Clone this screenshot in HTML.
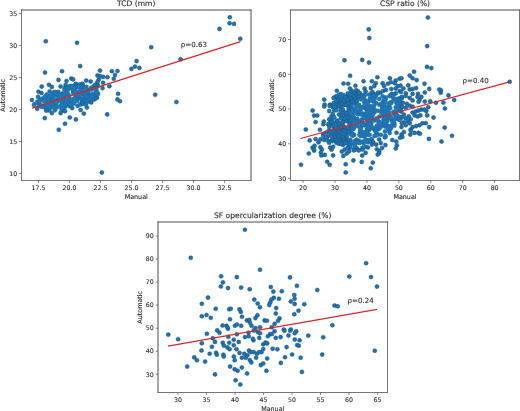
<!DOCTYPE html>
<html><head><meta charset="utf-8"><title>Scatter plots</title>
<style>html,body{margin:0;padding:0;background:#fff;overflow:hidden}svg{display:block;filter:blur(0.3px)}svg text{fill:#2e2e2e;stroke:#2e2e2e;stroke-width:0.12px}</style>
</head><body>
<svg width="520" height="411" viewBox="0 0 520 411" font-family="'DejaVu Sans', 'Liberation Sans', sans-serif" fill="#1f72ad" stroke="#184f7c" stroke-width="0.45">
<g fill="#1f77b4" stroke="#1d6aa2" stroke-width="0.3">
<circle cx="49.8" cy="98.4" r="2.15"/>
<circle cx="58.6" cy="100.1" r="2.15"/>
<circle cx="75.8" cy="84.7" r="2.15"/>
<circle cx="90.0" cy="96.5" r="2.15"/>
<circle cx="76.7" cy="87.1" r="2.15"/>
<circle cx="68.9" cy="104.1" r="2.15"/>
<circle cx="78.9" cy="84.6" r="2.15"/>
<circle cx="84.7" cy="99.8" r="2.15"/>
<circle cx="92.0" cy="96.4" r="2.15"/>
<circle cx="60.3" cy="105.8" r="2.15"/>
<circle cx="63.7" cy="109.7" r="2.15"/>
<circle cx="75.9" cy="91.4" r="2.15"/>
<circle cx="67.9" cy="93.9" r="2.15"/>
<circle cx="57.3" cy="99.6" r="2.15"/>
<circle cx="78.9" cy="87.5" r="2.15"/>
<circle cx="94.6" cy="99.1" r="2.15"/>
<circle cx="81.8" cy="88.9" r="2.15"/>
<circle cx="89.7" cy="99.3" r="2.15"/>
<circle cx="39.7" cy="105.8" r="2.15"/>
<circle cx="53.5" cy="104.9" r="2.15"/>
<circle cx="82.1" cy="92.3" r="2.15"/>
<circle cx="47.0" cy="94.5" r="2.15"/>
<circle cx="74.8" cy="87.3" r="2.15"/>
<circle cx="54.9" cy="110.3" r="2.15"/>
<circle cx="94.1" cy="93.6" r="2.15"/>
<circle cx="64.7" cy="97.7" r="2.15"/>
<circle cx="77.1" cy="99.9" r="2.15"/>
<circle cx="71.4" cy="100.6" r="2.15"/>
<circle cx="97.0" cy="97.4" r="2.15"/>
<circle cx="62.7" cy="103.5" r="2.15"/>
<circle cx="49.7" cy="91.4" r="2.15"/>
<circle cx="61.7" cy="99.4" r="2.15"/>
<circle cx="76.3" cy="84.5" r="2.15"/>
<circle cx="75.9" cy="96.2" r="2.15"/>
<circle cx="79.4" cy="92.9" r="2.15"/>
<circle cx="81.3" cy="104.0" r="2.15"/>
<circle cx="50.6" cy="95.9" r="2.15"/>
<circle cx="73.6" cy="92.0" r="2.15"/>
<circle cx="58.2" cy="91.8" r="2.15"/>
<circle cx="58.6" cy="99.9" r="2.15"/>
<circle cx="54.0" cy="93.6" r="2.15"/>
<circle cx="72.0" cy="103.9" r="2.15"/>
<circle cx="87.8" cy="89.7" r="2.15"/>
<circle cx="46.4" cy="95.3" r="2.15"/>
<circle cx="80.7" cy="85.7" r="2.15"/>
<circle cx="55.4" cy="92.4" r="2.15"/>
<circle cx="89.8" cy="95.4" r="2.15"/>
<circle cx="91.3" cy="87.7" r="2.15"/>
<circle cx="56.4" cy="101.5" r="2.15"/>
<circle cx="93.3" cy="95.7" r="2.15"/>
<circle cx="69.4" cy="88.3" r="2.15"/>
<circle cx="88.0" cy="101.2" r="2.15"/>
<circle cx="88.0" cy="92.7" r="2.15"/>
<circle cx="87.1" cy="90.6" r="2.15"/>
<circle cx="57.0" cy="94.8" r="2.15"/>
<circle cx="62.0" cy="94.6" r="2.15"/>
<circle cx="95.7" cy="87.3" r="2.15"/>
<circle cx="63.0" cy="110.1" r="2.15"/>
<circle cx="96.1" cy="89.2" r="2.15"/>
<circle cx="78.3" cy="97.7" r="2.15"/>
<circle cx="53.2" cy="92.6" r="2.15"/>
<circle cx="73.3" cy="91.0" r="2.15"/>
<circle cx="94.3" cy="99.4" r="2.15"/>
<circle cx="34.6" cy="104.2" r="2.15"/>
<circle cx="78.3" cy="97.9" r="2.15"/>
<circle cx="61.6" cy="109.8" r="2.15"/>
<circle cx="74.9" cy="92.6" r="2.15"/>
<circle cx="50.7" cy="107.5" r="2.15"/>
<circle cx="65.8" cy="105.3" r="2.15"/>
<circle cx="69.7" cy="106.2" r="2.15"/>
<circle cx="45.3" cy="105.5" r="2.15"/>
<circle cx="51.8" cy="97.9" r="2.15"/>
<circle cx="62.2" cy="96.4" r="2.15"/>
<circle cx="55.0" cy="91.8" r="2.15"/>
<circle cx="57.4" cy="101.4" r="2.15"/>
<circle cx="73.2" cy="93.2" r="2.15"/>
<circle cx="42.1" cy="98.7" r="2.15"/>
<circle cx="81.9" cy="93.7" r="2.15"/>
<circle cx="58.9" cy="100.1" r="2.15"/>
<circle cx="86.4" cy="93.7" r="2.15"/>
<circle cx="87.6" cy="100.7" r="2.15"/>
<circle cx="62.8" cy="93.5" r="2.15"/>
<circle cx="67.1" cy="103.0" r="2.15"/>
<circle cx="62.0" cy="102.7" r="2.15"/>
<circle cx="64.7" cy="89.8" r="2.15"/>
<circle cx="69.8" cy="102.8" r="2.15"/>
<circle cx="62.4" cy="108.0" r="2.15"/>
<circle cx="96.7" cy="93.5" r="2.15"/>
<circle cx="51.4" cy="96.1" r="2.15"/>
<circle cx="42.0" cy="106.1" r="2.15"/>
<circle cx="87.0" cy="102.0" r="2.15"/>
<circle cx="83.1" cy="99.0" r="2.15"/>
<circle cx="40.7" cy="99.7" r="2.15"/>
<circle cx="93.0" cy="87.9" r="2.15"/>
<circle cx="41.9" cy="107.0" r="2.15"/>
<circle cx="85.4" cy="97.5" r="2.15"/>
<circle cx="81.8" cy="85.9" r="2.15"/>
<circle cx="50.6" cy="100.5" r="2.15"/>
<circle cx="84.4" cy="94.1" r="2.15"/>
<circle cx="58.5" cy="94.2" r="2.15"/>
<circle cx="57.3" cy="94.8" r="2.15"/>
<circle cx="84.0" cy="87.4" r="2.15"/>
<circle cx="80.2" cy="104.5" r="2.15"/>
<circle cx="79.1" cy="97.6" r="2.15"/>
<circle cx="66.3" cy="101.3" r="2.15"/>
<circle cx="94.1" cy="87.1" r="2.15"/>
<circle cx="40.2" cy="104.3" r="2.15"/>
<circle cx="95.4" cy="97.6" r="2.15"/>
<circle cx="63.5" cy="103.4" r="2.15"/>
<circle cx="47.1" cy="99.6" r="2.15"/>
<circle cx="53.6" cy="103.0" r="2.15"/>
<circle cx="61.5" cy="107.3" r="2.15"/>
<circle cx="73.1" cy="90.5" r="2.15"/>
<circle cx="66.0" cy="93.8" r="2.15"/>
<circle cx="55.4" cy="105.0" r="2.15"/>
<circle cx="66.0" cy="100.0" r="2.15"/>
<circle cx="65.2" cy="106.8" r="2.15"/>
<circle cx="89.0" cy="98.8" r="2.15"/>
<circle cx="66.1" cy="103.5" r="2.15"/>
<circle cx="91.4" cy="94.3" r="2.15"/>
<circle cx="65.2" cy="89.4" r="2.15"/>
<circle cx="49.5" cy="103.4" r="2.15"/>
<circle cx="91.2" cy="89.7" r="2.15"/>
<circle cx="46.3" cy="103.0" r="2.15"/>
<circle cx="50.9" cy="107.6" r="2.15"/>
<circle cx="54.8" cy="94.9" r="2.15"/>
<circle cx="82.8" cy="85.3" r="2.15"/>
<circle cx="53.4" cy="93.0" r="2.15"/>
<circle cx="72.8" cy="102.2" r="2.15"/>
<circle cx="63.1" cy="96.7" r="2.15"/>
<circle cx="47.9" cy="99.6" r="2.15"/>
<circle cx="98.0" cy="94.0" r="2.15"/>
<circle cx="70.4" cy="86.2" r="2.15"/>
<circle cx="52.2" cy="101.9" r="2.15"/>
<circle cx="94.9" cy="85.6" r="2.15"/>
<circle cx="97.1" cy="93.5" r="2.15"/>
<circle cx="85.7" cy="104.5" r="2.15"/>
<circle cx="53.6" cy="102.2" r="2.15"/>
<circle cx="77.7" cy="105.9" r="2.15"/>
<circle cx="51.6" cy="104.4" r="2.15"/>
<circle cx="69.8" cy="86.1" r="2.15"/>
<circle cx="67.0" cy="92.9" r="2.15"/>
<circle cx="82.0" cy="102.3" r="2.15"/>
<circle cx="71.8" cy="88.0" r="2.15"/>
<circle cx="77.2" cy="100.9" r="2.15"/>
<circle cx="45.8" cy="108.3" r="2.15"/>
<circle cx="77.8" cy="86.3" r="2.15"/>
<circle cx="96.4" cy="86.9" r="2.15"/>
<circle cx="56.0" cy="103.5" r="2.15"/>
<circle cx="73.9" cy="98.7" r="2.15"/>
<circle cx="77.3" cy="95.9" r="2.15"/>
<circle cx="38.4" cy="103.3" r="2.15"/>
<circle cx="84.5" cy="98.4" r="2.15"/>
<circle cx="83.5" cy="93.1" r="2.15"/>
<circle cx="51.6" cy="93.8" r="2.15"/>
<circle cx="67.7" cy="89.9" r="2.15"/>
<circle cx="85.5" cy="93.0" r="2.15"/>
<circle cx="56.1" cy="94.4" r="2.15"/>
<circle cx="70.2" cy="104.9" r="2.15"/>
<circle cx="57.5" cy="107.1" r="2.15"/>
<circle cx="86.1" cy="103.7" r="2.15"/>
<circle cx="61.8" cy="104.1" r="2.15"/>
<circle cx="73.6" cy="87.0" r="2.15"/>
<circle cx="69.2" cy="99.1" r="2.15"/>
<circle cx="97.6" cy="93.8" r="2.15"/>
<circle cx="70.9" cy="99.5" r="2.15"/>
<circle cx="79.9" cy="91.4" r="2.15"/>
<circle cx="91.6" cy="96.7" r="2.15"/>
<circle cx="74.2" cy="103.7" r="2.15"/>
<circle cx="33.9" cy="104.9" r="2.15"/>
<circle cx="78.3" cy="96.9" r="2.15"/>
<circle cx="69.0" cy="96.0" r="2.15"/>
<circle cx="46.8" cy="98.0" r="2.15"/>
<circle cx="77.2" cy="95.5" r="2.15"/>
<circle cx="93.7" cy="86.7" r="2.15"/>
<circle cx="87.0" cy="100.7" r="2.15"/>
<circle cx="55.5" cy="107.8" r="2.15"/>
<circle cx="80.5" cy="86.7" r="2.15"/>
<circle cx="91.5" cy="100.1" r="2.15"/>
<circle cx="83.5" cy="92.7" r="2.15"/>
<circle cx="91.7" cy="95.3" r="2.15"/>
<circle cx="84.6" cy="96.7" r="2.15"/>
<circle cx="44.6" cy="97.1" r="2.15"/>
<circle cx="80.8" cy="98.2" r="2.15"/>
<circle cx="62.1" cy="101.4" r="2.15"/>
<circle cx="54.2" cy="96.1" r="2.15"/>
<circle cx="84.7" cy="94.3" r="2.15"/>
<circle cx="45.9" cy="108.6" r="2.15"/>
<circle cx="82.1" cy="93.3" r="2.15"/>
<circle cx="58.7" cy="98.0" r="2.15"/>
<circle cx="73.9" cy="89.2" r="2.15"/>
<circle cx="86.4" cy="86.9" r="2.15"/>
<circle cx="64.7" cy="88.4" r="2.15"/>
<circle cx="45.1" cy="96.9" r="2.15"/>
<circle cx="63.9" cy="94.5" r="2.15"/>
<circle cx="81.1" cy="84.3" r="2.15"/>
<circle cx="60.9" cy="94.2" r="2.15"/>
<circle cx="65.7" cy="87.5" r="2.15"/>
<circle cx="75.6" cy="92.7" r="2.15"/>
<circle cx="82.7" cy="90.7" r="2.15"/>
<circle cx="86.7" cy="96.2" r="2.15"/>
<circle cx="96.5" cy="91.4" r="2.15"/>
<circle cx="88.5" cy="100.9" r="2.15"/>
<circle cx="37.4" cy="101.6" r="2.15"/>
<circle cx="94.3" cy="88.6" r="2.15"/>
<circle cx="97.0" cy="83.8" r="2.15"/>
<circle cx="54.2" cy="100.2" r="2.15"/>
<circle cx="97.4" cy="85.3" r="2.15"/>
<circle cx="53.5" cy="107.2" r="2.15"/>
<circle cx="56.2" cy="102.3" r="2.15"/>
<circle cx="96.2" cy="87.8" r="2.15"/>
<circle cx="83.5" cy="103.9" r="2.15"/>
<circle cx="89.9" cy="98.7" r="2.15"/>
<circle cx="95.9" cy="93.2" r="2.15"/>
<circle cx="86.2" cy="96.6" r="2.15"/>
<circle cx="82.2" cy="100.2" r="2.15"/>
<circle cx="81.5" cy="93.9" r="2.15"/>
<circle cx="66.5" cy="87.2" r="2.15"/>
<circle cx="65.2" cy="104.6" r="2.15"/>
<circle cx="79.3" cy="85.6" r="2.15"/>
<circle cx="49.7" cy="107.0" r="2.15"/>
<circle cx="92.4" cy="95.7" r="2.15"/>
<circle cx="56.2" cy="93.4" r="2.15"/>
<circle cx="98.0" cy="85.8" r="2.15"/>
<circle cx="72.0" cy="86.0" r="2.15"/>
<circle cx="39.2" cy="101.4" r="2.15"/>
<circle cx="44.0" cy="101.3" r="2.15"/>
<circle cx="49.2" cy="110.6" r="2.15"/>
<circle cx="48.6" cy="98.9" r="2.15"/>
<circle cx="62.0" cy="105.2" r="2.15"/>
<circle cx="69.7" cy="88.2" r="2.15"/>
<circle cx="47.2" cy="108.4" r="2.15"/>
<circle cx="48.7" cy="106.6" r="2.15"/>
</g>
<circle cx="229.8" cy="17.3" r="2.05"/>
<circle cx="229.6" cy="23.2" r="2.05"/>
<circle cx="234.0" cy="23.9" r="2.05"/>
<circle cx="219.5" cy="28.9" r="2.05"/>
<circle cx="240.3" cy="38.7" r="2.05"/>
<circle cx="180.6" cy="59.3" r="2.05"/>
<circle cx="45.8" cy="41.2" r="2.05"/>
<circle cx="77.0" cy="42.8" r="2.05"/>
<circle cx="151.2" cy="47.2" r="2.05"/>
<circle cx="136.6" cy="61.1" r="2.05"/>
<circle cx="135.0" cy="66.6" r="2.05"/>
<circle cx="131.4" cy="68.9" r="2.05"/>
<circle cx="139.4" cy="67.9" r="2.05"/>
<circle cx="155.2" cy="94.8" r="2.05"/>
<circle cx="176.4" cy="102.0" r="2.05"/>
<circle cx="101.9" cy="172.5" r="2.05"/>
<circle cx="80.2" cy="66.1" r="2.05"/>
<circle cx="62.0" cy="71.2" r="2.05"/>
<circle cx="45.0" cy="72.6" r="2.05"/>
<circle cx="100.0" cy="70.6" r="2.05"/>
<circle cx="111.9" cy="71.2" r="2.05"/>
<circle cx="117.5" cy="71.0" r="2.05"/>
<circle cx="115.0" cy="75.0" r="2.05"/>
<circle cx="113.8" cy="78.8" r="2.05"/>
<circle cx="97.5" cy="75.5" r="2.05"/>
<circle cx="103.1" cy="76.9" r="2.05"/>
<circle cx="107.5" cy="77.2" r="2.05"/>
<circle cx="98.8" cy="79.4" r="2.05"/>
<circle cx="86.2" cy="80.6" r="2.05"/>
<circle cx="90.6" cy="81.5" r="2.05"/>
<circle cx="97.5" cy="81.9" r="2.05"/>
<circle cx="103.1" cy="82.8" r="2.05"/>
<circle cx="95.0" cy="85.0" r="2.05"/>
<circle cx="109.4" cy="86.2" r="2.05"/>
<circle cx="102.5" cy="88.1" r="2.05"/>
<circle cx="118.1" cy="93.8" r="2.05"/>
<circle cx="117.5" cy="99.4" r="2.05"/>
<circle cx="120.0" cy="101.2" r="2.05"/>
<circle cx="58.5" cy="79.9" r="2.05"/>
<circle cx="66.5" cy="81.0" r="2.05"/>
<circle cx="71.3" cy="78.5" r="2.05"/>
<circle cx="73.1" cy="79.4" r="2.05"/>
<circle cx="75.6" cy="83.8" r="2.05"/>
<circle cx="82.5" cy="83.8" r="2.05"/>
<circle cx="65.6" cy="85.0" r="2.05"/>
<circle cx="60.6" cy="86.5" r="2.05"/>
<circle cx="49.0" cy="84.8" r="2.05"/>
<circle cx="51.9" cy="86.9" r="2.05"/>
<circle cx="41.7" cy="86.6" r="2.05"/>
<circle cx="38.5" cy="91.7" r="2.05"/>
<circle cx="41.5" cy="93.0" r="2.05"/>
<circle cx="38.1" cy="96.9" r="2.05"/>
<circle cx="31.9" cy="100.0" r="2.05"/>
<circle cx="37.2" cy="108.8" r="2.05"/>
<circle cx="44.8" cy="118.1" r="2.05"/>
<circle cx="58.8" cy="129.8" r="2.05"/>
<circle cx="65.0" cy="123.8" r="2.05"/>
<circle cx="69.8" cy="117.5" r="2.05"/>
<circle cx="75.9" cy="119.4" r="2.05"/>
<circle cx="72.2" cy="108.1" r="2.05"/>
<circle cx="60.6" cy="113.1" r="2.05"/>
<circle cx="51.9" cy="113.1" r="2.05"/>
<circle cx="46.2" cy="110.6" r="2.05"/>
<circle cx="65.0" cy="111.2" r="2.05"/>
<circle cx="80.6" cy="110.0" r="2.05"/>
<circle cx="83.8" cy="113.6" r="2.05"/>
<circle cx="86.9" cy="107.5" r="2.05"/>
<circle cx="107.2" cy="114.4" r="2.05"/>
<circle cx="91.2" cy="102.5" r="2.05"/>
<circle cx="96.2" cy="98.1" r="2.05"/>
<circle cx="82.5" cy="102.5" r="2.05"/>
<circle cx="100.0" cy="76.0" r="2.05"/>
<line x1="32.1" y1="108.1" x2="240.4" y2="41.6" stroke="#d62728" stroke-width="1.2"/>
<line x1="21.5" y1="9.5" x2="21.5" y2="181.0" stroke="#767676" stroke-width="1"/>
<line x1="251.0" y1="9.5" x2="251.0" y2="181.0" stroke="#4e4e4e" stroke-width="1"/>
<line x1="21.0" y1="10.0" x2="251.5" y2="10.0" stroke="#4e4e4e" stroke-width="1"/>
<line x1="21.0" y1="180.5" x2="251.5" y2="180.5" stroke="#767676" stroke-width="1"/>
<line x1="38.5" y1="180.5" x2="38.5" y2="182.9" stroke="#555" stroke-width="0.7"/>
<text x="38.50" y="190.20" font-size="6.25" text-anchor="middle" >17.5</text>
<line x1="69.5" y1="180.5" x2="69.5" y2="182.9" stroke="#555" stroke-width="0.7"/>
<text x="69.50" y="190.20" font-size="6.25" text-anchor="middle" >20.0</text>
<line x1="100.5" y1="180.5" x2="100.5" y2="182.9" stroke="#555" stroke-width="0.7"/>
<text x="100.50" y="190.20" font-size="6.25" text-anchor="middle" >22.5</text>
<line x1="131.5" y1="180.5" x2="131.5" y2="182.9" stroke="#555" stroke-width="0.7"/>
<text x="131.50" y="190.20" font-size="6.25" text-anchor="middle" >25.0</text>
<line x1="162.5" y1="180.5" x2="162.5" y2="182.9" stroke="#555" stroke-width="0.7"/>
<text x="162.50" y="190.20" font-size="6.25" text-anchor="middle" >27.5</text>
<line x1="193.5" y1="180.5" x2="193.5" y2="182.9" stroke="#555" stroke-width="0.7"/>
<text x="193.50" y="190.20" font-size="6.25" text-anchor="middle" >30.0</text>
<line x1="224.5" y1="180.5" x2="224.5" y2="182.9" stroke="#555" stroke-width="0.7"/>
<text x="224.50" y="190.20" font-size="6.25" text-anchor="middle" >32.5</text>
<line x1="19.1" y1="173.5" x2="21.5" y2="173.5" stroke="#555" stroke-width="0.7"/>
<text x="17.30" y="175.80" font-size="6.25" text-anchor="end" >10</text>
<line x1="19.1" y1="141.52" x2="21.5" y2="141.52" stroke="#555" stroke-width="0.7"/>
<text x="17.30" y="143.82" font-size="6.25" text-anchor="end" >15</text>
<line x1="19.1" y1="109.53999999999999" x2="21.5" y2="109.53999999999999" stroke="#555" stroke-width="0.7"/>
<text x="17.30" y="111.84" font-size="6.25" text-anchor="end" >20</text>
<line x1="19.1" y1="77.56" x2="21.5" y2="77.56" stroke="#555" stroke-width="0.7"/>
<text x="17.30" y="79.86" font-size="6.25" text-anchor="end" >25</text>
<line x1="19.1" y1="45.58" x2="21.5" y2="45.58" stroke="#555" stroke-width="0.7"/>
<text x="17.30" y="47.88" font-size="6.25" text-anchor="end" >30</text>
<line x1="19.1" y1="13.599999999999994" x2="21.5" y2="13.599999999999994" stroke="#555" stroke-width="0.7"/>
<text x="17.30" y="15.90" font-size="6.25" text-anchor="end" >35</text>
<text x="136.25" y="6.00" font-size="7.6" text-anchor="middle" >TCD (mm)</text>
<text x="136.25" y="199.10" font-size="6.4" text-anchor="middle" >Manual</text>
<text x="0" y="0" font-size="6.4" text-anchor="middle" transform="translate(5.20,95.25) rotate(-90)">Automatic</text>
<text x="180.80" y="47.00" font-size="7.05" text-anchor="start" >ρ=0.63</text>
<g fill="#1f77b4" stroke="#1d6aa2" stroke-width="0.3">
<circle cx="374.2" cy="128.9" r="2.15"/>
<circle cx="354.0" cy="126.7" r="2.15"/>
<circle cx="361.4" cy="98.4" r="2.15"/>
<circle cx="390.7" cy="126.2" r="2.15"/>
<circle cx="389.1" cy="103.8" r="2.15"/>
<circle cx="368.4" cy="118.7" r="2.15"/>
<circle cx="382.6" cy="96.4" r="2.15"/>
<circle cx="354.0" cy="119.9" r="2.15"/>
<circle cx="333.4" cy="123.8" r="2.15"/>
<circle cx="383.1" cy="116.3" r="2.15"/>
<circle cx="376.6" cy="126.8" r="2.15"/>
<circle cx="344.1" cy="112.2" r="2.15"/>
<circle cx="360.3" cy="96.8" r="2.15"/>
<circle cx="344.3" cy="101.5" r="2.15"/>
<circle cx="368.2" cy="116.1" r="2.15"/>
<circle cx="399.2" cy="119.8" r="2.15"/>
<circle cx="386.0" cy="115.4" r="2.15"/>
<circle cx="349.9" cy="145.7" r="2.15"/>
<circle cx="341.8" cy="97.5" r="2.15"/>
<circle cx="382.2" cy="108.9" r="2.15"/>
<circle cx="367.0" cy="128.8" r="2.15"/>
<circle cx="331.0" cy="134.8" r="2.15"/>
<circle cx="348.7" cy="116.9" r="2.15"/>
<circle cx="353.9" cy="134.7" r="2.15"/>
<circle cx="384.0" cy="108.5" r="2.15"/>
<circle cx="335.8" cy="109.2" r="2.15"/>
<circle cx="358.8" cy="96.5" r="2.15"/>
<circle cx="339.5" cy="135.9" r="2.15"/>
<circle cx="355.9" cy="101.3" r="2.15"/>
<circle cx="351.4" cy="118.6" r="2.15"/>
<circle cx="367.4" cy="123.2" r="2.15"/>
<circle cx="355.0" cy="141.0" r="2.15"/>
<circle cx="349.4" cy="118.6" r="2.15"/>
<circle cx="350.3" cy="105.9" r="2.15"/>
<circle cx="337.9" cy="122.5" r="2.15"/>
<circle cx="368.2" cy="101.5" r="2.15"/>
<circle cx="385.7" cy="118.8" r="2.15"/>
<circle cx="360.4" cy="111.5" r="2.15"/>
<circle cx="331.8" cy="123.4" r="2.15"/>
<circle cx="335.0" cy="109.9" r="2.15"/>
<circle cx="346.5" cy="138.1" r="2.15"/>
<circle cx="359.4" cy="107.0" r="2.15"/>
<circle cx="331.3" cy="116.7" r="2.15"/>
<circle cx="375.1" cy="130.8" r="2.15"/>
<circle cx="346.6" cy="99.8" r="2.15"/>
<circle cx="384.9" cy="137.4" r="2.15"/>
<circle cx="366.2" cy="139.8" r="2.15"/>
<circle cx="369.4" cy="108.1" r="2.15"/>
<circle cx="396.0" cy="118.9" r="2.15"/>
<circle cx="389.1" cy="126.7" r="2.15"/>
<circle cx="359.1" cy="121.8" r="2.15"/>
<circle cx="340.8" cy="102.5" r="2.15"/>
<circle cx="369.0" cy="115.5" r="2.15"/>
<circle cx="354.4" cy="118.2" r="2.15"/>
<circle cx="388.2" cy="118.0" r="2.15"/>
<circle cx="399.9" cy="100.9" r="2.15"/>
<circle cx="351.6" cy="122.0" r="2.15"/>
<circle cx="358.9" cy="140.9" r="2.15"/>
<circle cx="373.9" cy="93.8" r="2.15"/>
<circle cx="371.1" cy="123.6" r="2.15"/>
<circle cx="364.6" cy="108.1" r="2.15"/>
<circle cx="335.7" cy="130.4" r="2.15"/>
<circle cx="355.8" cy="121.6" r="2.15"/>
<circle cx="376.3" cy="103.2" r="2.15"/>
<circle cx="397.1" cy="102.4" r="2.15"/>
<circle cx="356.7" cy="139.6" r="2.15"/>
<circle cx="351.7" cy="107.6" r="2.15"/>
<circle cx="351.8" cy="114.6" r="2.15"/>
<circle cx="349.1" cy="99.6" r="2.15"/>
<circle cx="333.9" cy="105.2" r="2.15"/>
<circle cx="343.0" cy="96.6" r="2.15"/>
<circle cx="367.5" cy="134.7" r="2.15"/>
<circle cx="390.9" cy="128.3" r="2.15"/>
<circle cx="349.2" cy="147.3" r="2.15"/>
<circle cx="333.2" cy="107.4" r="2.15"/>
<circle cx="364.2" cy="107.4" r="2.15"/>
<circle cx="369.0" cy="94.7" r="2.15"/>
<circle cx="378.6" cy="129.2" r="2.15"/>
<circle cx="338.7" cy="95.1" r="2.15"/>
<circle cx="385.0" cy="102.1" r="2.15"/>
<circle cx="342.2" cy="139.3" r="2.15"/>
<circle cx="393.6" cy="94.8" r="2.15"/>
<circle cx="356.7" cy="98.2" r="2.15"/>
<circle cx="357.2" cy="148.8" r="2.15"/>
<circle cx="349.1" cy="99.6" r="2.15"/>
<circle cx="338.9" cy="99.3" r="2.15"/>
<circle cx="354.4" cy="144.6" r="2.15"/>
<circle cx="333.8" cy="103.0" r="2.15"/>
<circle cx="401.5" cy="106.1" r="2.15"/>
<circle cx="354.6" cy="146.7" r="2.15"/>
<circle cx="364.4" cy="132.4" r="2.15"/>
<circle cx="351.5" cy="93.2" r="2.15"/>
<circle cx="353.9" cy="135.0" r="2.15"/>
<circle cx="386.6" cy="124.7" r="2.15"/>
<circle cx="362.8" cy="122.9" r="2.15"/>
<circle cx="361.2" cy="122.7" r="2.15"/>
<circle cx="390.5" cy="103.5" r="2.15"/>
<circle cx="391.6" cy="102.3" r="2.15"/>
<circle cx="340.6" cy="107.3" r="2.15"/>
<circle cx="343.2" cy="95.1" r="2.15"/>
<circle cx="393.5" cy="98.6" r="2.15"/>
<circle cx="379.4" cy="122.2" r="2.15"/>
<circle cx="385.5" cy="97.3" r="2.15"/>
<circle cx="368.5" cy="117.4" r="2.15"/>
<circle cx="339.0" cy="126.5" r="2.15"/>
<circle cx="352.2" cy="121.1" r="2.15"/>
<circle cx="356.0" cy="110.3" r="2.15"/>
<circle cx="354.9" cy="126.6" r="2.15"/>
<circle cx="349.5" cy="148.2" r="2.15"/>
<circle cx="348.2" cy="99.1" r="2.15"/>
<circle cx="365.6" cy="134.1" r="2.15"/>
<circle cx="353.6" cy="129.1" r="2.15"/>
<circle cx="349.2" cy="147.6" r="2.15"/>
<circle cx="362.0" cy="119.5" r="2.15"/>
<circle cx="367.9" cy="142.3" r="2.15"/>
<circle cx="361.1" cy="127.5" r="2.15"/>
<circle cx="333.2" cy="116.5" r="2.15"/>
<circle cx="332.5" cy="141.1" r="2.15"/>
<circle cx="356.8" cy="148.4" r="2.15"/>
<circle cx="355.5" cy="104.3" r="2.15"/>
<circle cx="360.3" cy="141.9" r="2.15"/>
<circle cx="381.4" cy="112.8" r="2.15"/>
<circle cx="350.5" cy="121.1" r="2.15"/>
<circle cx="357.9" cy="113.4" r="2.15"/>
<circle cx="371.8" cy="100.4" r="2.15"/>
<circle cx="344.5" cy="113.3" r="2.15"/>
<circle cx="374.1" cy="100.0" r="2.15"/>
<circle cx="334.1" cy="110.4" r="2.15"/>
<circle cx="349.2" cy="93.7" r="2.15"/>
<circle cx="368.1" cy="134.4" r="2.15"/>
<circle cx="396.5" cy="117.4" r="2.15"/>
<circle cx="379.2" cy="98.9" r="2.15"/>
<circle cx="394.0" cy="113.7" r="2.15"/>
<circle cx="363.7" cy="143.2" r="2.15"/>
<circle cx="349.5" cy="102.9" r="2.15"/>
<circle cx="389.8" cy="126.4" r="2.15"/>
<circle cx="354.3" cy="92.4" r="2.15"/>
<circle cx="390.4" cy="102.6" r="2.15"/>
<circle cx="348.6" cy="114.4" r="2.15"/>
<circle cx="366.4" cy="116.9" r="2.15"/>
<circle cx="375.1" cy="129.9" r="2.15"/>
<circle cx="360.7" cy="97.6" r="2.15"/>
<circle cx="334.3" cy="117.4" r="2.15"/>
<circle cx="364.0" cy="116.3" r="2.15"/>
<circle cx="352.9" cy="116.1" r="2.15"/>
<circle cx="343.1" cy="114.5" r="2.15"/>
<circle cx="334.6" cy="128.9" r="2.15"/>
<circle cx="367.3" cy="125.0" r="2.15"/>
<circle cx="334.4" cy="105.4" r="2.15"/>
<circle cx="363.2" cy="141.3" r="2.15"/>
<circle cx="368.4" cy="108.4" r="2.15"/>
<circle cx="367.6" cy="103.6" r="2.15"/>
<circle cx="350.4" cy="143.7" r="2.15"/>
<circle cx="338.0" cy="122.6" r="2.15"/>
<circle cx="374.5" cy="112.4" r="2.15"/>
<circle cx="343.3" cy="95.4" r="2.15"/>
<circle cx="360.5" cy="109.9" r="2.15"/>
<circle cx="342.5" cy="142.1" r="2.15"/>
<circle cx="344.2" cy="139.3" r="2.15"/>
<circle cx="398.3" cy="98.9" r="2.15"/>
<circle cx="396.5" cy="114.8" r="2.15"/>
<circle cx="343.9" cy="102.7" r="2.15"/>
<circle cx="330.8" cy="120.7" r="2.15"/>
<circle cx="356.8" cy="141.0" r="2.15"/>
<circle cx="390.5" cy="95.3" r="2.15"/>
<circle cx="358.1" cy="114.4" r="2.15"/>
<circle cx="341.3" cy="106.4" r="2.15"/>
<circle cx="347.8" cy="131.9" r="2.15"/>
<circle cx="353.5" cy="98.4" r="2.15"/>
<circle cx="344.5" cy="117.4" r="2.15"/>
<circle cx="370.4" cy="106.1" r="2.15"/>
<circle cx="380.5" cy="104.4" r="2.15"/>
<circle cx="378.3" cy="127.0" r="2.15"/>
<circle cx="341.2" cy="135.2" r="2.15"/>
<circle cx="357.6" cy="123.0" r="2.15"/>
<circle cx="372.8" cy="128.1" r="2.15"/>
<circle cx="361.2" cy="95.2" r="2.15"/>
<circle cx="364.8" cy="125.3" r="2.15"/>
<circle cx="348.1" cy="143.7" r="2.15"/>
<circle cx="379.4" cy="104.8" r="2.15"/>
<circle cx="353.9" cy="149.2" r="2.15"/>
<circle cx="364.2" cy="102.3" r="2.15"/>
<circle cx="381.8" cy="111.5" r="2.15"/>
<circle cx="382.9" cy="125.5" r="2.15"/>
<circle cx="336.1" cy="122.4" r="2.15"/>
<circle cx="391.8" cy="119.5" r="2.15"/>
<circle cx="368.4" cy="141.6" r="2.15"/>
<circle cx="361.5" cy="120.3" r="2.15"/>
<circle cx="371.7" cy="139.4" r="2.15"/>
<circle cx="343.2" cy="97.4" r="2.15"/>
<circle cx="385.1" cy="123.8" r="2.15"/>
<circle cx="350.7" cy="143.3" r="2.15"/>
<circle cx="394.3" cy="123.1" r="2.15"/>
<circle cx="384.1" cy="108.7" r="2.15"/>
<circle cx="328.8" cy="131.0" r="2.15"/>
<circle cx="383.1" cy="112.2" r="2.15"/>
<circle cx="363.9" cy="124.6" r="2.15"/>
<circle cx="346.7" cy="132.1" r="2.15"/>
<circle cx="370.2" cy="114.2" r="2.15"/>
<circle cx="336.2" cy="123.9" r="2.15"/>
<circle cx="352.0" cy="133.7" r="2.15"/>
<circle cx="340.9" cy="114.7" r="2.15"/>
<circle cx="342.7" cy="115.5" r="2.15"/>
<circle cx="371.2" cy="98.1" r="2.15"/>
<circle cx="332.1" cy="119.7" r="2.15"/>
<circle cx="343.1" cy="121.0" r="2.15"/>
<circle cx="340.5" cy="97.8" r="2.15"/>
<circle cx="393.1" cy="121.6" r="2.15"/>
<circle cx="357.8" cy="95.8" r="2.15"/>
<circle cx="348.7" cy="110.1" r="2.15"/>
<circle cx="398.6" cy="98.7" r="2.15"/>
<circle cx="399.1" cy="119.4" r="2.15"/>
<circle cx="360.6" cy="107.1" r="2.15"/>
<circle cx="400.2" cy="102.7" r="2.15"/>
<circle cx="370.9" cy="121.4" r="2.15"/>
<circle cx="343.0" cy="104.8" r="2.15"/>
<circle cx="335.4" cy="132.5" r="2.15"/>
<circle cx="384.3" cy="105.0" r="2.15"/>
<circle cx="362.3" cy="148.0" r="2.15"/>
<circle cx="352.5" cy="135.8" r="2.15"/>
<circle cx="340.4" cy="130.4" r="2.15"/>
<circle cx="348.2" cy="121.3" r="2.15"/>
<circle cx="355.9" cy="142.0" r="2.15"/>
<circle cx="383.9" cy="121.0" r="2.15"/>
<circle cx="379.5" cy="116.6" r="2.15"/>
<circle cx="388.3" cy="106.8" r="2.15"/>
<circle cx="368.8" cy="125.7" r="2.15"/>
<circle cx="357.1" cy="94.7" r="2.15"/>
<circle cx="340.7" cy="128.8" r="2.15"/>
<circle cx="343.9" cy="135.6" r="2.15"/>
<circle cx="365.9" cy="146.8" r="2.15"/>
<circle cx="355.9" cy="94.5" r="2.15"/>
<circle cx="369.7" cy="134.9" r="2.15"/>
<circle cx="397.1" cy="103.7" r="2.15"/>
<circle cx="383.5" cy="119.9" r="2.15"/>
<circle cx="383.4" cy="100.6" r="2.15"/>
<circle cx="368.8" cy="130.4" r="2.15"/>
<circle cx="373.3" cy="101.3" r="2.15"/>
<circle cx="338.3" cy="127.9" r="2.15"/>
<circle cx="394.3" cy="99.9" r="2.15"/>
<circle cx="386.9" cy="114.5" r="2.15"/>
<circle cx="373.8" cy="107.1" r="2.15"/>
<circle cx="349.1" cy="132.2" r="2.15"/>
<circle cx="340.8" cy="93.9" r="2.15"/>
<circle cx="366.9" cy="110.8" r="2.15"/>
<circle cx="400.8" cy="97.8" r="2.15"/>
<circle cx="388.2" cy="114.3" r="2.15"/>
<circle cx="388.4" cy="117.6" r="2.15"/>
<circle cx="378.1" cy="110.8" r="2.15"/>
<circle cx="344.8" cy="118.0" r="2.15"/>
<circle cx="388.0" cy="111.9" r="2.15"/>
<circle cx="345.2" cy="115.9" r="2.15"/>
<circle cx="335.2" cy="110.2" r="2.15"/>
<circle cx="371.0" cy="123.4" r="2.15"/>
<circle cx="372.8" cy="108.7" r="2.15"/>
<circle cx="353.4" cy="103.3" r="2.15"/>
<circle cx="370.7" cy="107.3" r="2.15"/>
<circle cx="385.1" cy="126.6" r="2.15"/>
<circle cx="377.7" cy="134.3" r="2.15"/>
<circle cx="367.1" cy="116.5" r="2.15"/>
<circle cx="351.1" cy="95.6" r="2.15"/>
<circle cx="387.6" cy="120.8" r="2.15"/>
<circle cx="371.7" cy="127.9" r="2.15"/>
<circle cx="360.9" cy="99.3" r="2.15"/>
<circle cx="355.5" cy="149.5" r="2.15"/>
<circle cx="337.2" cy="120.7" r="2.15"/>
<circle cx="364.0" cy="106.2" r="2.15"/>
<circle cx="397.3" cy="115.8" r="2.15"/>
<circle cx="328.4" cy="132.7" r="2.15"/>
<circle cx="331.6" cy="130.8" r="2.15"/>
<circle cx="350.9" cy="119.2" r="2.15"/>
<circle cx="350.5" cy="109.5" r="2.15"/>
<circle cx="338.0" cy="128.0" r="2.15"/>
<circle cx="342.4" cy="96.8" r="2.15"/>
<circle cx="383.9" cy="122.5" r="2.15"/>
<circle cx="385.7" cy="121.2" r="2.15"/>
<circle cx="375.3" cy="96.8" r="2.15"/>
<circle cx="378.5" cy="121.5" r="2.15"/>
<circle cx="333.1" cy="130.9" r="2.15"/>
<circle cx="397.5" cy="116.2" r="2.15"/>
<circle cx="381.3" cy="124.2" r="2.15"/>
<circle cx="357.3" cy="118.8" r="2.15"/>
<circle cx="373.1" cy="93.7" r="2.15"/>
<circle cx="350.9" cy="134.4" r="2.15"/>
<circle cx="347.4" cy="119.2" r="2.15"/>
<circle cx="347.3" cy="112.6" r="2.15"/>
<circle cx="376.8" cy="134.8" r="2.15"/>
<circle cx="399.8" cy="119.4" r="2.15"/>
<circle cx="343.2" cy="111.4" r="2.15"/>
<circle cx="332.4" cy="105.8" r="2.15"/>
<circle cx="371.8" cy="127.1" r="2.15"/>
<circle cx="346.1" cy="102.4" r="2.15"/>
<circle cx="335.4" cy="102.3" r="2.15"/>
<circle cx="365.6" cy="106.7" r="2.15"/>
<circle cx="394.3" cy="124.5" r="2.15"/>
<circle cx="353.5" cy="116.8" r="2.15"/>
<circle cx="331.0" cy="134.1" r="2.15"/>
<circle cx="384.3" cy="112.9" r="2.15"/>
<circle cx="382.4" cy="107.7" r="2.15"/>
<circle cx="344.5" cy="105.1" r="2.15"/>
<circle cx="342.8" cy="126.8" r="2.15"/>
<circle cx="376.2" cy="133.8" r="2.15"/>
<circle cx="335.8" cy="136.1" r="2.15"/>
<circle cx="363.9" cy="113.8" r="2.15"/>
<circle cx="365.7" cy="116.9" r="2.15"/>
<circle cx="343.0" cy="114.7" r="2.15"/>
<circle cx="376.5" cy="133.1" r="2.15"/>
<circle cx="396.6" cy="103.2" r="2.15"/>
<circle cx="338.3" cy="136.7" r="2.15"/>
<circle cx="395.5" cy="99.0" r="2.15"/>
<circle cx="350.0" cy="141.2" r="2.15"/>
<circle cx="396.0" cy="117.0" r="2.15"/>
<circle cx="338.9" cy="104.4" r="2.15"/>
<circle cx="390.2" cy="116.3" r="2.15"/>
<circle cx="351.7" cy="117.5" r="2.15"/>
<circle cx="397.6" cy="106.6" r="2.15"/>
<circle cx="351.8" cy="114.2" r="2.15"/>
<circle cx="401.2" cy="108.2" r="2.15"/>
<circle cx="346.3" cy="104.7" r="2.15"/>
<circle cx="398.3" cy="105.2" r="2.15"/>
<circle cx="395.6" cy="111.2" r="2.15"/>
<circle cx="350.7" cy="104.4" r="2.15"/>
<circle cx="368.7" cy="124.2" r="2.15"/>
<circle cx="357.9" cy="121.2" r="2.15"/>
<circle cx="350.4" cy="140.2" r="2.15"/>
<circle cx="389.5" cy="96.1" r="2.15"/>
<circle cx="346.8" cy="103.7" r="2.15"/>
<circle cx="369.8" cy="98.7" r="2.15"/>
<circle cx="360.0" cy="95.2" r="2.15"/>
<circle cx="395.8" cy="107.3" r="2.15"/>
<circle cx="349.6" cy="146.4" r="2.15"/>
<circle cx="343.0" cy="145.0" r="2.15"/>
<circle cx="351.3" cy="130.2" r="2.15"/>
<circle cx="357.9" cy="111.8" r="2.15"/>
<circle cx="377.1" cy="126.1" r="2.15"/>
<circle cx="346.8" cy="99.1" r="2.15"/>
<circle cx="371.2" cy="93.4" r="2.15"/>
<circle cx="393.4" cy="111.8" r="2.15"/>
<circle cx="340.7" cy="110.9" r="2.15"/>
<circle cx="336.5" cy="110.2" r="2.15"/>
<circle cx="368.7" cy="115.4" r="2.15"/>
<circle cx="353.1" cy="108.7" r="2.15"/>
<circle cx="364.5" cy="136.8" r="2.15"/>
<circle cx="360.8" cy="136.2" r="2.15"/>
<circle cx="364.2" cy="98.9" r="2.15"/>
<circle cx="340.8" cy="140.7" r="2.15"/>
<circle cx="363.9" cy="114.0" r="2.15"/>
<circle cx="366.7" cy="140.7" r="2.15"/>
<circle cx="356.1" cy="112.8" r="2.15"/>
<circle cx="355.4" cy="92.6" r="2.15"/>
<circle cx="368.9" cy="119.6" r="2.15"/>
<circle cx="365.2" cy="118.0" r="2.15"/>
<circle cx="363.4" cy="133.1" r="2.15"/>
<circle cx="336.6" cy="141.8" r="2.15"/>
<circle cx="341.1" cy="137.7" r="2.15"/>
<circle cx="347.5" cy="96.5" r="2.15"/>
<circle cx="368.6" cy="140.2" r="2.15"/>
<circle cx="356.4" cy="98.1" r="2.15"/>
<circle cx="384.6" cy="118.0" r="2.15"/>
<circle cx="393.6" cy="123.5" r="2.15"/>
<circle cx="390.3" cy="108.1" r="2.15"/>
<circle cx="377.7" cy="93.6" r="2.15"/>
<circle cx="343.8" cy="133.2" r="2.15"/>
<circle cx="330.8" cy="121.4" r="2.15"/>
<circle cx="398.3" cy="104.3" r="2.15"/>
<circle cx="380.9" cy="134.8" r="2.15"/>
<circle cx="374.5" cy="136.1" r="2.15"/>
<circle cx="380.4" cy="92.8" r="2.15"/>
<circle cx="342.4" cy="122.8" r="2.15"/>
<circle cx="400.7" cy="104.5" r="2.15"/>
<circle cx="372.0" cy="99.4" r="2.15"/>
<circle cx="391.5" cy="117.6" r="2.15"/>
<circle cx="367.1" cy="130.5" r="2.15"/>
<circle cx="338.2" cy="133.9" r="2.15"/>
<circle cx="349.1" cy="105.5" r="2.15"/>
<circle cx="340.4" cy="143.7" r="2.15"/>
<circle cx="360.9" cy="114.4" r="2.15"/>
<circle cx="367.0" cy="132.2" r="2.15"/>
<circle cx="351.9" cy="111.3" r="2.15"/>
<circle cx="385.5" cy="136.7" r="2.15"/>
<circle cx="350.2" cy="96.2" r="2.15"/>
<circle cx="372.6" cy="115.3" r="2.15"/>
<circle cx="399.9" cy="116.8" r="2.15"/>
<circle cx="344.2" cy="97.8" r="2.15"/>
<circle cx="354.3" cy="126.5" r="2.15"/>
<circle cx="355.3" cy="146.5" r="2.15"/>
<circle cx="376.7" cy="118.3" r="2.15"/>
<circle cx="377.5" cy="126.6" r="2.15"/>
<circle cx="374.3" cy="120.5" r="2.15"/>
<circle cx="367.2" cy="120.2" r="2.15"/>
<circle cx="390.4" cy="103.0" r="2.15"/>
<circle cx="386.9" cy="109.2" r="2.15"/>
<circle cx="391.7" cy="96.2" r="2.15"/>
<circle cx="364.4" cy="117.5" r="2.15"/>
<circle cx="381.4" cy="103.6" r="2.15"/>
<circle cx="347.7" cy="99.6" r="2.15"/>
<circle cx="370.1" cy="125.2" r="2.15"/>
<circle cx="362.1" cy="124.5" r="2.15"/>
<circle cx="349.7" cy="129.9" r="2.15"/>
<circle cx="389.0" cy="130.6" r="2.15"/>
<circle cx="364.7" cy="94.6" r="2.15"/>
<circle cx="387.2" cy="110.3" r="2.15"/>
<circle cx="350.0" cy="128.0" r="2.15"/>
<circle cx="371.9" cy="120.5" r="2.15"/>
<circle cx="392.4" cy="121.8" r="2.15"/>
<circle cx="353.7" cy="95.7" r="2.15"/>
<circle cx="369.5" cy="112.9" r="2.15"/>
<circle cx="368.2" cy="112.0" r="2.15"/>
<circle cx="339.8" cy="97.4" r="2.15"/>
<circle cx="391.9" cy="125.4" r="2.15"/>
<circle cx="345.9" cy="132.9" r="2.15"/>
<circle cx="375.6" cy="95.6" r="2.15"/>
<circle cx="384.3" cy="105.2" r="2.15"/>
<circle cx="349.4" cy="106.3" r="2.15"/>
<circle cx="371.5" cy="100.6" r="2.15"/>
<circle cx="360.1" cy="132.4" r="2.15"/>
<circle cx="380.4" cy="127.5" r="2.15"/>
<circle cx="401.1" cy="107.3" r="2.15"/>
<circle cx="350.9" cy="99.1" r="2.15"/>
<circle cx="341.5" cy="137.9" r="2.15"/>
<circle cx="335.1" cy="134.8" r="2.15"/>
<circle cx="357.7" cy="142.5" r="2.15"/>
<circle cx="385.0" cy="131.5" r="2.15"/>
<circle cx="391.4" cy="94.4" r="2.15"/>
<circle cx="347.9" cy="113.2" r="2.15"/>
<circle cx="360.2" cy="130.5" r="2.15"/>
<circle cx="354.7" cy="121.2" r="2.15"/>
<circle cx="355.7" cy="112.4" r="2.15"/>
<circle cx="374.1" cy="105.1" r="2.15"/>
<circle cx="376.7" cy="119.9" r="2.15"/>
<circle cx="342.6" cy="124.8" r="2.15"/>
<circle cx="363.6" cy="147.3" r="2.15"/>
<circle cx="394.3" cy="125.7" r="2.15"/>
<circle cx="340.4" cy="139.6" r="2.15"/>
<circle cx="385.0" cy="114.5" r="2.15"/>
<circle cx="343.5" cy="129.5" r="2.15"/>
<circle cx="343.8" cy="135.5" r="2.15"/>
<circle cx="371.1" cy="139.5" r="2.15"/>
<circle cx="354.7" cy="109.4" r="2.15"/>
<circle cx="356.4" cy="124.2" r="2.15"/>
<circle cx="360.7" cy="129.0" r="2.15"/>
<circle cx="366.8" cy="108.4" r="2.15"/>
<circle cx="384.9" cy="108.0" r="2.15"/>
<circle cx="342.6" cy="134.0" r="2.15"/>
<circle cx="389.7" cy="129.5" r="2.15"/>
<circle cx="344.0" cy="133.4" r="2.15"/>
<circle cx="367.2" cy="113.5" r="2.15"/>
<circle cx="372.2" cy="117.8" r="2.15"/>
<circle cx="376.7" cy="135.2" r="2.15"/>
<circle cx="401.7" cy="98.4" r="2.15"/>
<circle cx="377.3" cy="125.3" r="2.15"/>
<circle cx="392.0" cy="93.8" r="2.15"/>
<circle cx="387.5" cy="127.8" r="2.15"/>
<circle cx="371.8" cy="109.9" r="2.15"/>
<circle cx="374.4" cy="99.2" r="2.15"/>
<circle cx="367.4" cy="106.8" r="2.15"/>
<circle cx="363.5" cy="135.4" r="2.15"/>
<circle cx="356.9" cy="122.1" r="2.15"/>
<circle cx="340.1" cy="141.3" r="2.15"/>
<circle cx="385.3" cy="135.7" r="2.15"/>
<circle cx="334.2" cy="139.1" r="2.15"/>
<circle cx="328.9" cy="124.5" r="2.15"/>
<circle cx="364.6" cy="95.4" r="2.15"/>
<circle cx="359.6" cy="143.0" r="2.15"/>
<circle cx="374.8" cy="110.1" r="2.15"/>
<circle cx="389.1" cy="112.4" r="2.15"/>
<circle cx="395.3" cy="115.0" r="2.15"/>
<circle cx="333.3" cy="106.6" r="2.15"/>
<circle cx="385.8" cy="98.6" r="2.15"/>
<circle cx="368.8" cy="141.4" r="2.15"/>
<circle cx="372.2" cy="112.0" r="2.15"/>
<circle cx="371.5" cy="128.0" r="2.15"/>
<circle cx="352.2" cy="115.4" r="2.15"/>
<circle cx="344.9" cy="137.6" r="2.15"/>
<circle cx="343.0" cy="101.7" r="2.15"/>
<circle cx="385.4" cy="101.7" r="2.15"/>
<circle cx="343.5" cy="137.2" r="2.15"/>
<circle cx="359.1" cy="104.8" r="2.15"/>
<circle cx="331.5" cy="132.4" r="2.15"/>
<circle cx="370.1" cy="109.4" r="2.15"/>
<circle cx="390.5" cy="103.3" r="2.15"/>
<circle cx="361.4" cy="97.0" r="2.15"/>
<circle cx="354.3" cy="142.9" r="2.15"/>
<circle cx="365.5" cy="100.8" r="2.15"/>
<circle cx="345.7" cy="129.0" r="2.15"/>
<circle cx="348.8" cy="143.0" r="2.15"/>
<circle cx="354.6" cy="96.0" r="2.15"/>
<circle cx="340.9" cy="128.0" r="2.15"/>
<circle cx="380.3" cy="124.1" r="2.15"/>
<circle cx="359.9" cy="93.4" r="2.15"/>
<circle cx="334.7" cy="106.4" r="2.15"/>
<circle cx="362.6" cy="99.0" r="2.15"/>
<circle cx="345.0" cy="143.0" r="2.15"/>
<circle cx="399.9" cy="107.4" r="2.15"/>
<circle cx="337.4" cy="138.0" r="2.15"/>
<circle cx="358.6" cy="126.6" r="2.15"/>
<circle cx="336.5" cy="105.5" r="2.15"/>
<circle cx="359.4" cy="134.8" r="2.15"/>
<circle cx="345.8" cy="139.1" r="2.15"/>
<circle cx="363.3" cy="132.2" r="2.15"/>
<circle cx="349.9" cy="139.9" r="2.15"/>
<circle cx="336.2" cy="142.8" r="2.15"/>
<circle cx="372.4" cy="95.6" r="2.15"/>
<circle cx="398.6" cy="110.2" r="2.15"/>
<circle cx="333.1" cy="106.9" r="2.15"/>
<circle cx="389.7" cy="133.1" r="2.15"/>
<circle cx="356.8" cy="106.5" r="2.15"/>
<circle cx="339.7" cy="123.5" r="2.15"/>
<circle cx="343.3" cy="134.5" r="2.15"/>
<circle cx="352.0" cy="125.3" r="2.15"/>
<circle cx="369.0" cy="128.1" r="2.15"/>
<circle cx="339.6" cy="106.7" r="2.15"/>
</g>
<circle cx="368.7" cy="29.4" r="2.05"/>
<circle cx="369.3" cy="38.0" r="2.05"/>
<circle cx="344.5" cy="60.2" r="2.05"/>
<circle cx="427.9" cy="17.5" r="2.05"/>
<circle cx="427.2" cy="46.1" r="2.05"/>
<circle cx="509.7" cy="81.8" r="2.05"/>
<circle cx="448.5" cy="95.4" r="2.05"/>
<circle cx="454.2" cy="100.0" r="2.05"/>
<circle cx="443.4" cy="102.6" r="2.05"/>
<circle cx="440.8" cy="92.8" r="2.05"/>
<circle cx="440.8" cy="90.3" r="2.05"/>
<circle cx="444.9" cy="108.5" r="2.05"/>
<circle cx="350.1" cy="75.8" r="2.05"/>
<circle cx="377.4" cy="77.2" r="2.05"/>
<circle cx="363.5" cy="81.2" r="2.05"/>
<circle cx="343.5" cy="83.5" r="2.05"/>
<circle cx="348.2" cy="83.8" r="2.05"/>
<circle cx="336.9" cy="90.8" r="2.05"/>
<circle cx="324.2" cy="99.6" r="2.05"/>
<circle cx="335.4" cy="97.3" r="2.05"/>
<circle cx="337.7" cy="98.8" r="2.05"/>
<circle cx="355.4" cy="85.8" r="2.05"/>
<circle cx="351.5" cy="90.8" r="2.05"/>
<circle cx="347.7" cy="93.5" r="2.05"/>
<circle cx="356.2" cy="90.4" r="2.05"/>
<circle cx="357.7" cy="93.5" r="2.05"/>
<circle cx="336.2" cy="96.2" r="2.05"/>
<circle cx="340.8" cy="100.4" r="2.05"/>
<circle cx="345.4" cy="97.3" r="2.05"/>
<circle cx="347.7" cy="99.6" r="2.05"/>
<circle cx="350.8" cy="98.1" r="2.05"/>
<circle cx="353.8" cy="96.5" r="2.05"/>
<circle cx="358.5" cy="96.5" r="2.05"/>
<circle cx="352.3" cy="101.9" r="2.05"/>
<circle cx="356.9" cy="101.2" r="2.05"/>
<circle cx="336.9" cy="101.2" r="2.05"/>
<circle cx="339.2" cy="103.5" r="2.05"/>
<circle cx="348.5" cy="103.5" r="2.05"/>
<circle cx="330.0" cy="104.6" r="2.05"/>
<circle cx="324.6" cy="104.6" r="2.05"/>
<circle cx="362.2" cy="59.9" r="2.05"/>
<circle cx="369.0" cy="62.6" r="2.05"/>
<circle cx="371.9" cy="81.3" r="2.05"/>
<circle cx="389.9" cy="78.2" r="2.05"/>
<circle cx="395.7" cy="80.5" r="2.05"/>
<circle cx="399.6" cy="78.8" r="2.05"/>
<circle cx="375.8" cy="83.2" r="2.05"/>
<circle cx="374.3" cy="86.1" r="2.05"/>
<circle cx="382.6" cy="83.2" r="2.05"/>
<circle cx="384.0" cy="86.1" r="2.05"/>
<circle cx="387.9" cy="83.7" r="2.05"/>
<circle cx="390.9" cy="82.2" r="2.05"/>
<circle cx="394.7" cy="83.2" r="2.05"/>
<circle cx="397.7" cy="86.1" r="2.05"/>
<circle cx="364.6" cy="88.6" r="2.05"/>
<circle cx="370.9" cy="88.1" r="2.05"/>
<circle cx="391.3" cy="89.0" r="2.05"/>
<circle cx="395.7" cy="88.6" r="2.05"/>
<circle cx="357.8" cy="91.0" r="2.05"/>
<circle cx="365.6" cy="91.5" r="2.05"/>
<circle cx="372.4" cy="92.0" r="2.05"/>
<circle cx="378.2" cy="92.5" r="2.05"/>
<circle cx="383.1" cy="91.0" r="2.05"/>
<circle cx="386.0" cy="90.0" r="2.05"/>
<circle cx="395.7" cy="93.4" r="2.05"/>
<circle cx="399.6" cy="91.0" r="2.05"/>
<circle cx="350.0" cy="88.6" r="2.05"/>
<circle cx="359.7" cy="93.4" r="2.05"/>
<circle cx="427.0" cy="66.9" r="2.05"/>
<circle cx="431.3" cy="68.1" r="2.05"/>
<circle cx="414.1" cy="71.7" r="2.05"/>
<circle cx="409.7" cy="75.6" r="2.05"/>
<circle cx="412.6" cy="78.3" r="2.05"/>
<circle cx="416.7" cy="80.1" r="2.05"/>
<circle cx="401.5" cy="78.2" r="2.05"/>
<circle cx="424.5" cy="83.7" r="2.05"/>
<circle cx="429.2" cy="88.9" r="2.05"/>
<circle cx="408.3" cy="85.4" r="2.05"/>
<circle cx="400.5" cy="85.6" r="2.05"/>
<circle cx="403.4" cy="88.6" r="2.05"/>
<circle cx="409.7" cy="89.5" r="2.05"/>
<circle cx="412.6" cy="89.0" r="2.05"/>
<circle cx="416.1" cy="88.1" r="2.05"/>
<circle cx="424.8" cy="92.5" r="2.05"/>
<circle cx="439.4" cy="89.5" r="2.05"/>
<circle cx="418.0" cy="93.9" r="2.05"/>
<circle cx="412.6" cy="93.9" r="2.05"/>
<circle cx="405.8" cy="93.4" r="2.05"/>
<circle cx="401.0" cy="92.0" r="2.05"/>
<circle cx="324.3" cy="106.5" r="2.05"/>
<circle cx="329.7" cy="105.9" r="2.05"/>
<circle cx="312.6" cy="110.6" r="2.05"/>
<circle cx="314.1" cy="115.6" r="2.05"/>
<circle cx="317.3" cy="115.6" r="2.05"/>
<circle cx="315.6" cy="122.0" r="2.05"/>
<circle cx="305.8" cy="129.5" r="2.05"/>
<circle cx="319.9" cy="129.8" r="2.05"/>
<circle cx="329.2" cy="111.1" r="2.05"/>
<circle cx="332.6" cy="114.0" r="2.05"/>
<circle cx="323.8" cy="121.5" r="2.05"/>
<circle cx="323.3" cy="124.2" r="2.05"/>
<circle cx="329.2" cy="119.3" r="2.05"/>
<circle cx="331.6" cy="122.2" r="2.05"/>
<circle cx="333.6" cy="97.9" r="2.05"/>
<circle cx="335.0" cy="107.2" r="2.05"/>
<circle cx="338.9" cy="105.7" r="2.05"/>
<circle cx="341.8" cy="103.8" r="2.05"/>
<circle cx="345.7" cy="104.7" r="2.05"/>
<circle cx="348.6" cy="107.6" r="2.05"/>
<circle cx="342.8" cy="109.6" r="2.05"/>
<circle cx="338.9" cy="114.5" r="2.05"/>
<circle cx="342.8" cy="115.4" r="2.05"/>
<circle cx="346.7" cy="113.5" r="2.05"/>
<circle cx="348.6" cy="117.4" r="2.05"/>
<circle cx="340.9" cy="118.3" r="2.05"/>
<circle cx="337.0" cy="121.3" r="2.05"/>
<circle cx="338.9" cy="124.2" r="2.05"/>
<circle cx="342.8" cy="122.2" r="2.05"/>
<circle cx="346.7" cy="121.3" r="2.05"/>
<circle cx="349.6" cy="124.2" r="2.05"/>
<circle cx="328.2" cy="124.2" r="2.05"/>
<circle cx="329.2" cy="127.1" r="2.05"/>
<circle cx="333.1" cy="126.1" r="2.05"/>
<circle cx="336.0" cy="128.1" r="2.05"/>
<circle cx="340.9" cy="127.1" r="2.05"/>
<circle cx="344.7" cy="127.1" r="2.05"/>
<circle cx="348.6" cy="128.1" r="2.05"/>
<circle cx="334.0" cy="132.0" r="2.05"/>
<circle cx="338.9" cy="132.0" r="2.05"/>
<circle cx="343.8" cy="131.0" r="2.05"/>
<circle cx="348.6" cy="132.0" r="2.05"/>
<circle cx="326.3" cy="132.5" r="2.05"/>
<circle cx="323.3" cy="133.9" r="2.05"/>
<circle cx="424.8" cy="101.6" r="2.05"/>
<circle cx="430.2" cy="101.3" r="2.05"/>
<circle cx="436.0" cy="102.8" r="2.05"/>
<circle cx="428.2" cy="107.2" r="2.05"/>
<circle cx="426.3" cy="111.1" r="2.05"/>
<circle cx="427.2" cy="115.4" r="2.05"/>
<circle cx="433.6" cy="117.6" r="2.05"/>
<circle cx="444.7" cy="127.6" r="2.05"/>
<circle cx="429.2" cy="127.1" r="2.05"/>
<circle cx="425.8" cy="123.2" r="2.05"/>
<circle cx="422.4" cy="123.2" r="2.05"/>
<circle cx="419.5" cy="125.2" r="2.05"/>
<circle cx="416.1" cy="126.1" r="2.05"/>
<circle cx="412.6" cy="127.1" r="2.05"/>
<circle cx="410.7" cy="129.5" r="2.05"/>
<circle cx="414.6" cy="132.9" r="2.05"/>
<circle cx="418.5" cy="132.9" r="2.05"/>
<circle cx="401.5" cy="127.1" r="2.05"/>
<circle cx="403.9" cy="132.0" r="2.05"/>
<circle cx="401.9" cy="96.9" r="2.05"/>
<circle cx="405.8" cy="96.0" r="2.05"/>
<circle cx="409.7" cy="97.9" r="2.05"/>
<circle cx="412.6" cy="100.4" r="2.05"/>
<circle cx="417.5" cy="96.9" r="2.05"/>
<circle cx="419.5" cy="99.9" r="2.05"/>
<circle cx="418.5" cy="101.8" r="2.05"/>
<circle cx="421.4" cy="96.9" r="2.05"/>
<circle cx="402.9" cy="102.8" r="2.05"/>
<circle cx="406.8" cy="103.8" r="2.05"/>
<circle cx="401.9" cy="106.7" r="2.05"/>
<circle cx="405.8" cy="107.6" r="2.05"/>
<circle cx="409.7" cy="105.7" r="2.05"/>
<circle cx="412.6" cy="106.7" r="2.05"/>
<circle cx="401.0" cy="111.5" r="2.05"/>
<circle cx="403.9" cy="114.5" r="2.05"/>
<circle cx="401.9" cy="117.4" r="2.05"/>
<circle cx="405.8" cy="118.3" r="2.05"/>
<circle cx="408.8" cy="116.4" r="2.05"/>
<circle cx="410.7" cy="119.3" r="2.05"/>
<circle cx="407.8" cy="121.3" r="2.05"/>
<circle cx="403.9" cy="122.2" r="2.05"/>
<circle cx="412.6" cy="112.5" r="2.05"/>
<circle cx="415.6" cy="111.5" r="2.05"/>
<circle cx="418.5" cy="110.6" r="2.05"/>
<circle cx="421.4" cy="109.6" r="2.05"/>
<circle cx="424.3" cy="109.6" r="2.05"/>
<circle cx="414.6" cy="115.4" r="2.05"/>
<circle cx="417.5" cy="116.4" r="2.05"/>
<circle cx="420.4" cy="115.4" r="2.05"/>
<circle cx="409.7" cy="123.2" r="2.05"/>
<circle cx="405.8" cy="125.2" r="2.05"/>
<circle cx="401.9" cy="123.2" r="2.05"/>
<circle cx="420.0" cy="133.8" r="2.05"/>
<circle cx="452.0" cy="135.8" r="2.05"/>
<circle cx="428.9" cy="138.9" r="2.05"/>
<circle cx="441.5" cy="141.5" r="2.05"/>
<circle cx="396.5" cy="132.8" r="2.05"/>
<circle cx="401.5" cy="134.6" r="2.05"/>
<circle cx="402.3" cy="136.9" r="2.05"/>
<circle cx="400.0" cy="137.7" r="2.05"/>
<circle cx="410.3" cy="134.6" r="2.05"/>
<circle cx="410.8" cy="130.8" r="2.05"/>
<circle cx="392.3" cy="140.0" r="2.05"/>
<circle cx="396.2" cy="141.5" r="2.05"/>
<circle cx="396.9" cy="145.4" r="2.05"/>
<circle cx="395.8" cy="148.5" r="2.05"/>
<circle cx="385.4" cy="145.1" r="2.05"/>
<circle cx="379.2" cy="139.5" r="2.05"/>
<circle cx="380.8" cy="143.1" r="2.05"/>
<circle cx="373.1" cy="142.3" r="2.05"/>
<circle cx="376.2" cy="144.6" r="2.05"/>
<circle cx="376.9" cy="149.2" r="2.05"/>
<circle cx="379.2" cy="150.8" r="2.05"/>
<circle cx="377.7" cy="154.6" r="2.05"/>
<circle cx="372.8" cy="162.6" r="2.05"/>
<circle cx="370.8" cy="168.2" r="2.05"/>
<circle cx="309.7" cy="140.4" r="2.05"/>
<circle cx="315.6" cy="139.1" r="2.05"/>
<circle cx="318.5" cy="142.3" r="2.05"/>
<circle cx="320.4" cy="139.4" r="2.05"/>
<circle cx="314.6" cy="145.7" r="2.05"/>
<circle cx="312.6" cy="147.6" r="2.05"/>
<circle cx="314.1" cy="150.6" r="2.05"/>
<circle cx="308.8" cy="153.5" r="2.05"/>
<circle cx="320.4" cy="147.2" r="2.05"/>
<circle cx="321.9" cy="149.6" r="2.05"/>
<circle cx="320.9" cy="152.5" r="2.05"/>
<circle cx="321.4" cy="155.4" r="2.05"/>
<circle cx="324.8" cy="154.9" r="2.05"/>
<circle cx="330.2" cy="147.6" r="2.05"/>
<circle cx="333.1" cy="146.7" r="2.05"/>
<circle cx="331.6" cy="149.6" r="2.05"/>
<circle cx="333.1" cy="155.4" r="2.05"/>
<circle cx="327.2" cy="161.8" r="2.05"/>
<circle cx="329.7" cy="164.7" r="2.05"/>
<circle cx="301.0" cy="164.7" r="2.05"/>
<circle cx="345.7" cy="164.2" r="2.05"/>
<circle cx="345.7" cy="172.5" r="2.05"/>
<circle cx="343.3" cy="155.9" r="2.05"/>
<circle cx="341.8" cy="151.5" r="2.05"/>
<circle cx="344.7" cy="149.6" r="2.05"/>
<circle cx="347.7" cy="147.6" r="2.05"/>
<circle cx="346.7" cy="153.5" r="2.05"/>
<circle cx="349.1" cy="151.5" r="2.05"/>
<circle cx="323.3" cy="136.0" r="2.05"/>
<circle cx="327.2" cy="136.9" r="2.05"/>
<circle cx="331.1" cy="136.0" r="2.05"/>
<circle cx="335.0" cy="136.9" r="2.05"/>
<circle cx="338.9" cy="136.0" r="2.05"/>
<circle cx="342.8" cy="136.9" r="2.05"/>
<circle cx="346.7" cy="136.0" r="2.05"/>
<circle cx="324.3" cy="139.9" r="2.05"/>
<circle cx="328.2" cy="140.8" r="2.05"/>
<circle cx="332.1" cy="139.9" r="2.05"/>
<circle cx="336.0" cy="140.4" r="2.05"/>
<circle cx="339.9" cy="140.8" r="2.05"/>
<circle cx="343.8" cy="139.9" r="2.05"/>
<circle cx="347.7" cy="140.8" r="2.05"/>
<circle cx="329.2" cy="142.8" r="2.05"/>
<circle cx="338.9" cy="143.8" r="2.05"/>
<circle cx="341.8" cy="143.8" r="2.05"/>
<circle cx="345.7" cy="142.8" r="2.05"/>
<circle cx="371.9" cy="144.6" r="2.05"/>
<circle cx="382.1" cy="148.0" r="2.05"/>
<circle cx="379.2" cy="152.9" r="2.05"/>
<circle cx="368.0" cy="147.5" r="2.05"/>
<circle cx="365.6" cy="152.9" r="2.05"/>
<circle cx="362.2" cy="155.5" r="2.05"/>
<circle cx="353.4" cy="160.4" r="2.05"/>
<circle cx="361.7" cy="161.9" r="2.05"/>
<circle cx="358.8" cy="150.4" r="2.05"/>
<circle cx="353.9" cy="150.4" r="2.05"/>
<circle cx="362.6" cy="149.5" r="2.05"/>
<circle cx="313.8" cy="149.2" r="2.05"/>
<line x1="300.5" y1="138.5" x2="509.7" y2="81.8" stroke="#d62728" stroke-width="1.2"/>
<line x1="290.5" y1="9.5" x2="290.5" y2="181.0" stroke="#767676" stroke-width="1"/>
<line x1="519.5" y1="9.5" x2="519.5" y2="181.0" stroke="#767676" stroke-width="1"/>
<line x1="290.0" y1="10.0" x2="520.0" y2="10.0" stroke="#4e4e4e" stroke-width="1"/>
<line x1="290.0" y1="180.5" x2="520.0" y2="180.5" stroke="#767676" stroke-width="1"/>
<line x1="303.1" y1="180.5" x2="303.1" y2="182.9" stroke="#555" stroke-width="0.7"/>
<text x="303.10" y="190.20" font-size="6.25" text-anchor="middle" >20</text>
<line x1="335.02000000000004" y1="180.5" x2="335.02000000000004" y2="182.9" stroke="#555" stroke-width="0.7"/>
<text x="335.02" y="190.20" font-size="6.25" text-anchor="middle" >30</text>
<line x1="366.94000000000005" y1="180.5" x2="366.94000000000005" y2="182.9" stroke="#555" stroke-width="0.7"/>
<text x="366.94" y="190.20" font-size="6.25" text-anchor="middle" >40</text>
<line x1="398.86" y1="180.5" x2="398.86" y2="182.9" stroke="#555" stroke-width="0.7"/>
<text x="398.86" y="190.20" font-size="6.25" text-anchor="middle" >50</text>
<line x1="430.78000000000003" y1="180.5" x2="430.78000000000003" y2="182.9" stroke="#555" stroke-width="0.7"/>
<text x="430.78" y="190.20" font-size="6.25" text-anchor="middle" >60</text>
<line x1="462.70000000000005" y1="180.5" x2="462.70000000000005" y2="182.9" stroke="#555" stroke-width="0.7"/>
<text x="462.70" y="190.20" font-size="6.25" text-anchor="middle" >70</text>
<line x1="494.62" y1="180.5" x2="494.62" y2="182.9" stroke="#555" stroke-width="0.7"/>
<text x="494.62" y="190.20" font-size="6.25" text-anchor="middle" >80</text>
<line x1="288.1" y1="178.5" x2="290.5" y2="178.5" stroke="#555" stroke-width="0.7"/>
<text x="286.30" y="180.80" font-size="6.25" text-anchor="end" >30</text>
<line x1="288.1" y1="143.75" x2="290.5" y2="143.75" stroke="#555" stroke-width="0.7"/>
<text x="286.30" y="146.05" font-size="6.25" text-anchor="end" >40</text>
<line x1="288.1" y1="109.0" x2="290.5" y2="109.0" stroke="#555" stroke-width="0.7"/>
<text x="286.30" y="111.30" font-size="6.25" text-anchor="end" >50</text>
<line x1="288.1" y1="74.25" x2="290.5" y2="74.25" stroke="#555" stroke-width="0.7"/>
<text x="286.30" y="76.55" font-size="6.25" text-anchor="end" >60</text>
<line x1="288.1" y1="39.5" x2="290.5" y2="39.5" stroke="#555" stroke-width="0.7"/>
<text x="286.30" y="41.80" font-size="6.25" text-anchor="end" >70</text>
<text x="405.00" y="6.00" font-size="7.6" text-anchor="middle" >CSP ratio (%)</text>
<text x="405.00" y="199.10" font-size="6.4" text-anchor="middle" >Manual</text>
<text x="0" y="0" font-size="6.4" text-anchor="middle" transform="translate(274.20,95.25) rotate(-90)">Automatic</text>
<text x="462.60" y="83.40" font-size="7.05" text-anchor="start" >ρ=0.40</text>
<circle cx="190.8" cy="257.8" r="2.05"/>
<circle cx="221.1" cy="276.2" r="2.05"/>
<circle cx="236.8" cy="277.1" r="2.05"/>
<circle cx="222.9" cy="282.4" r="2.05"/>
<circle cx="244.9" cy="229.7" r="2.05"/>
<circle cx="260.0" cy="269.7" r="2.05"/>
<circle cx="290.0" cy="277.4" r="2.05"/>
<circle cx="366.1" cy="263.2" r="2.05"/>
<circle cx="349.3" cy="276.5" r="2.05"/>
<circle cx="371.0" cy="277.0" r="2.05"/>
<circle cx="377.0" cy="286.6" r="2.05"/>
<circle cx="317.3" cy="290.0" r="2.05"/>
<circle cx="220.8" cy="286.5" r="2.05"/>
<circle cx="228.0" cy="288.1" r="2.05"/>
<circle cx="208.0" cy="297.6" r="2.05"/>
<circle cx="201.8" cy="303.8" r="2.05"/>
<circle cx="215.7" cy="308.8" r="2.05"/>
<circle cx="229.2" cy="309.2" r="2.05"/>
<circle cx="201.8" cy="316.2" r="2.05"/>
<circle cx="206.5" cy="315.0" r="2.05"/>
<circle cx="210.8" cy="317.8" r="2.05"/>
<circle cx="230.0" cy="319.3" r="2.05"/>
<circle cx="222.6" cy="325.5" r="2.05"/>
<circle cx="226.5" cy="325.8" r="2.05"/>
<circle cx="228.0" cy="328.8" r="2.05"/>
<circle cx="234.9" cy="325.8" r="2.05"/>
<circle cx="217.2" cy="330.4" r="2.05"/>
<circle cx="219.5" cy="332.7" r="2.05"/>
<circle cx="206.9" cy="333.8" r="2.05"/>
<circle cx="168.3" cy="334.6" r="2.05"/>
<circle cx="241.1" cy="287.6" r="2.05"/>
<circle cx="249.7" cy="289.2" r="2.05"/>
<circle cx="270.8" cy="287.0" r="2.05"/>
<circle cx="273.4" cy="291.6" r="2.05"/>
<circle cx="281.8" cy="291.2" r="2.05"/>
<circle cx="296.9" cy="285.8" r="2.05"/>
<circle cx="294.3" cy="295.0" r="2.05"/>
<circle cx="254.3" cy="299.6" r="2.05"/>
<circle cx="257.7" cy="303.5" r="2.05"/>
<circle cx="260.0" cy="307.3" r="2.05"/>
<circle cx="273.8" cy="297.8" r="2.05"/>
<circle cx="271.5" cy="299.6" r="2.05"/>
<circle cx="270.3" cy="302.4" r="2.05"/>
<circle cx="269.2" cy="305.0" r="2.05"/>
<circle cx="278.9" cy="298.8" r="2.05"/>
<circle cx="290.8" cy="301.5" r="2.05"/>
<circle cx="294.6" cy="303.9" r="2.05"/>
<circle cx="304.3" cy="304.2" r="2.05"/>
<circle cx="294.6" cy="298.8" r="2.05"/>
<circle cx="276.2" cy="308.1" r="2.05"/>
<circle cx="275.8" cy="313.5" r="2.05"/>
<circle cx="298.5" cy="310.7" r="2.05"/>
<circle cx="294.3" cy="314.2" r="2.05"/>
<circle cx="230.8" cy="308.8" r="2.05"/>
<circle cx="239.5" cy="309.2" r="2.05"/>
<circle cx="240.8" cy="311.9" r="2.05"/>
<circle cx="242.0" cy="316.8" r="2.05"/>
<circle cx="257.4" cy="315.3" r="2.05"/>
<circle cx="255.4" cy="318.1" r="2.05"/>
<circle cx="246.9" cy="320.4" r="2.05"/>
<circle cx="249.2" cy="319.9" r="2.05"/>
<circle cx="250.0" cy="322.7" r="2.05"/>
<circle cx="264.6" cy="320.4" r="2.05"/>
<circle cx="266.9" cy="320.8" r="2.05"/>
<circle cx="279.5" cy="318.4" r="2.05"/>
<circle cx="278.0" cy="320.8" r="2.05"/>
<circle cx="274.6" cy="323.9" r="2.05"/>
<circle cx="271.8" cy="327.3" r="2.05"/>
<circle cx="236.9" cy="324.5" r="2.05"/>
<circle cx="241.1" cy="325.8" r="2.05"/>
<circle cx="251.5" cy="325.8" r="2.05"/>
<circle cx="255.4" cy="328.1" r="2.05"/>
<circle cx="260.0" cy="327.3" r="2.05"/>
<circle cx="257.7" cy="331.9" r="2.05"/>
<circle cx="253.8" cy="330.4" r="2.05"/>
<circle cx="248.5" cy="332.7" r="2.05"/>
<circle cx="236.9" cy="334.2" r="2.05"/>
<circle cx="274.6" cy="331.2" r="2.05"/>
<circle cx="283.8" cy="329.6" r="2.05"/>
<circle cx="290.8" cy="329.6" r="2.05"/>
<circle cx="296.2" cy="331.2" r="2.05"/>
<circle cx="270.0" cy="334.2" r="2.05"/>
<circle cx="334.6" cy="305.6" r="2.05"/>
<circle cx="337.7" cy="306.3" r="2.05"/>
<circle cx="332.4" cy="325.3" r="2.05"/>
<circle cx="308.3" cy="335.6" r="2.05"/>
<circle cx="323.2" cy="337.2" r="2.05"/>
<circle cx="178.1" cy="339.2" r="2.05"/>
<circle cx="187.2" cy="366.6" r="2.05"/>
<circle cx="194.2" cy="357.4" r="2.05"/>
<circle cx="196.9" cy="360.2" r="2.05"/>
<circle cx="201.5" cy="350.5" r="2.05"/>
<circle cx="201.8" cy="343.2" r="2.05"/>
<circle cx="205.1" cy="361.6" r="2.05"/>
<circle cx="209.7" cy="353.8" r="2.05"/>
<circle cx="211.9" cy="346.8" r="2.05"/>
<circle cx="215.0" cy="374.4" r="2.05"/>
<circle cx="212.8" cy="338.3" r="2.05"/>
<circle cx="215.0" cy="341.9" r="2.05"/>
<circle cx="216.1" cy="352.9" r="2.05"/>
<circle cx="216.8" cy="354.7" r="2.05"/>
<circle cx="227.4" cy="327.3" r="2.05"/>
<circle cx="222.8" cy="342.8" r="2.05"/>
<circle cx="223.8" cy="345.6" r="2.05"/>
<circle cx="223.4" cy="354.7" r="2.05"/>
<circle cx="223.8" cy="356.5" r="2.05"/>
<circle cx="227.4" cy="347.4" r="2.05"/>
<circle cx="229.2" cy="342.8" r="2.05"/>
<circle cx="229.6" cy="349.2" r="2.05"/>
<circle cx="228.3" cy="336.8" r="2.05"/>
<circle cx="230.1" cy="366.6" r="2.05"/>
<circle cx="233.8" cy="339.7" r="2.05"/>
<circle cx="233.8" cy="345.2" r="2.05"/>
<circle cx="233.8" cy="356.5" r="2.05"/>
<circle cx="234.7" cy="360.2" r="2.05"/>
<circle cx="234.7" cy="369.3" r="2.05"/>
<circle cx="235.6" cy="380.3" r="2.05"/>
<circle cx="236.5" cy="349.2" r="2.05"/>
<circle cx="238.7" cy="341.9" r="2.05"/>
<circle cx="245.0" cy="337.1" r="2.05"/>
<circle cx="248.7" cy="336.3" r="2.05"/>
<circle cx="253.4" cy="340.3" r="2.05"/>
<circle cx="252.9" cy="338.7" r="2.05"/>
<circle cx="260.0" cy="333.2" r="2.05"/>
<circle cx="259.2" cy="337.9" r="2.05"/>
<circle cx="267.9" cy="336.3" r="2.05"/>
<circle cx="271.9" cy="334.0" r="2.05"/>
<circle cx="275.8" cy="337.9" r="2.05"/>
<circle cx="280.6" cy="337.1" r="2.05"/>
<circle cx="284.5" cy="330.8" r="2.05"/>
<circle cx="288.5" cy="335.5" r="2.05"/>
<circle cx="290.1" cy="330.8" r="2.05"/>
<circle cx="294.8" cy="333.2" r="2.05"/>
<circle cx="294.8" cy="339.5" r="2.05"/>
<circle cx="299.6" cy="340.3" r="2.05"/>
<circle cx="297.2" cy="345.0" r="2.05"/>
<circle cx="298.8" cy="345.8" r="2.05"/>
<circle cx="263.2" cy="344.2" r="2.05"/>
<circle cx="265.6" cy="342.6" r="2.05"/>
<circle cx="267.2" cy="343.4" r="2.05"/>
<circle cx="263.2" cy="349.0" r="2.05"/>
<circle cx="261.6" cy="352.1" r="2.05"/>
<circle cx="272.7" cy="348.7" r="2.05"/>
<circle cx="277.4" cy="349.3" r="2.05"/>
<circle cx="286.6" cy="347.1" r="2.05"/>
<circle cx="249.0" cy="350.6" r="2.05"/>
<circle cx="250.6" cy="352.1" r="2.05"/>
<circle cx="253.7" cy="352.1" r="2.05"/>
<circle cx="256.9" cy="353.7" r="2.05"/>
<circle cx="259.2" cy="352.1" r="2.05"/>
<circle cx="239.5" cy="352.9" r="2.05"/>
<circle cx="244.2" cy="353.7" r="2.05"/>
<circle cx="247.4" cy="355.3" r="2.05"/>
<circle cx="241.9" cy="357.7" r="2.05"/>
<circle cx="245.8" cy="357.7" r="2.05"/>
<circle cx="256.1" cy="357.7" r="2.05"/>
<circle cx="249.8" cy="360.0" r="2.05"/>
<circle cx="251.3" cy="362.4" r="2.05"/>
<circle cx="267.2" cy="358.5" r="2.05"/>
<circle cx="260.8" cy="365.1" r="2.05"/>
<circle cx="263.2" cy="363.5" r="2.05"/>
<circle cx="237.6" cy="370.8" r="2.05"/>
<circle cx="241.9" cy="367.6" r="2.05"/>
<circle cx="247.1" cy="373.5" r="2.05"/>
<circle cx="266.4" cy="370.8" r="2.05"/>
<circle cx="280.9" cy="362.9" r="2.05"/>
<circle cx="285.0" cy="357.2" r="2.05"/>
<circle cx="292.1" cy="354.5" r="2.05"/>
<circle cx="300.7" cy="357.7" r="2.05"/>
<circle cx="301.9" cy="371.9" r="2.05"/>
<circle cx="240.3" cy="384.5" r="2.05"/>
<circle cx="322.2" cy="354.6" r="2.05"/>
<circle cx="374.8" cy="350.8" r="2.05"/>
<line x1="168" y1="346.1" x2="377" y2="309.4" stroke="#d62728" stroke-width="1.2"/>
<line x1="158.0" y1="221.5" x2="158.0" y2="393.0" stroke="#4e4e4e" stroke-width="1"/>
<line x1="387.5" y1="221.5" x2="387.5" y2="393.0" stroke="#767676" stroke-width="1"/>
<line x1="157.5" y1="222.0" x2="388.0" y2="222.0" stroke="#4e4e4e" stroke-width="1"/>
<line x1="157.5" y1="392.5" x2="388.0" y2="392.5" stroke="#767676" stroke-width="1"/>
<line x1="178.0" y1="392.5" x2="178.0" y2="394.9" stroke="#555" stroke-width="0.7"/>
<text x="178.00" y="402.20" font-size="6.25" text-anchor="middle" >30</text>
<line x1="206.49" y1="392.5" x2="206.49" y2="394.9" stroke="#555" stroke-width="0.7"/>
<text x="206.49" y="402.20" font-size="6.25" text-anchor="middle" >35</text>
<line x1="234.98" y1="392.5" x2="234.98" y2="394.9" stroke="#555" stroke-width="0.7"/>
<text x="234.98" y="402.20" font-size="6.25" text-anchor="middle" >40</text>
<line x1="263.47" y1="392.5" x2="263.47" y2="394.9" stroke="#555" stroke-width="0.7"/>
<text x="263.47" y="402.20" font-size="6.25" text-anchor="middle" >45</text>
<line x1="291.96" y1="392.5" x2="291.96" y2="394.9" stroke="#555" stroke-width="0.7"/>
<text x="291.96" y="402.20" font-size="6.25" text-anchor="middle" >50</text>
<line x1="320.45" y1="392.5" x2="320.45" y2="394.9" stroke="#555" stroke-width="0.7"/>
<text x="320.45" y="402.20" font-size="6.25" text-anchor="middle" >55</text>
<line x1="348.94" y1="392.5" x2="348.94" y2="394.9" stroke="#555" stroke-width="0.7"/>
<text x="348.94" y="402.20" font-size="6.25" text-anchor="middle" >60</text>
<line x1="377.42999999999995" y1="392.5" x2="377.42999999999995" y2="394.9" stroke="#555" stroke-width="0.7"/>
<text x="377.43" y="402.20" font-size="6.25" text-anchor="middle" >65</text>
<line x1="155.6" y1="374.2" x2="158.0" y2="374.2" stroke="#555" stroke-width="0.7"/>
<text x="153.80" y="376.50" font-size="6.25" text-anchor="end" >30</text>
<line x1="155.6" y1="351.18" x2="158.0" y2="351.18" stroke="#555" stroke-width="0.7"/>
<text x="153.80" y="353.48" font-size="6.25" text-anchor="end" >40</text>
<line x1="155.6" y1="328.15999999999997" x2="158.0" y2="328.15999999999997" stroke="#555" stroke-width="0.7"/>
<text x="153.80" y="330.46" font-size="6.25" text-anchor="end" >50</text>
<line x1="155.6" y1="305.14" x2="158.0" y2="305.14" stroke="#555" stroke-width="0.7"/>
<text x="153.80" y="307.44" font-size="6.25" text-anchor="end" >60</text>
<line x1="155.6" y1="282.12" x2="158.0" y2="282.12" stroke="#555" stroke-width="0.7"/>
<text x="153.80" y="284.42" font-size="6.25" text-anchor="end" >70</text>
<line x1="155.6" y1="259.1" x2="158.0" y2="259.1" stroke="#555" stroke-width="0.7"/>
<text x="153.80" y="261.40" font-size="6.25" text-anchor="end" >80</text>
<line x1="155.6" y1="236.07999999999998" x2="158.0" y2="236.07999999999998" stroke="#555" stroke-width="0.7"/>
<text x="153.80" y="238.38" font-size="6.25" text-anchor="end" >90</text>
<text x="272.75" y="218.00" font-size="7.6" text-anchor="middle" >SF opercularization degree (%)</text>
<text x="272.75" y="411.10" font-size="6.4" text-anchor="middle" >Manual</text>
<text x="0" y="0" font-size="6.4" text-anchor="middle" transform="translate(141.70,307.25) rotate(-90)">Automatic</text>
<text x="347.60" y="302.50" font-size="7.05" text-anchor="start" >ρ=0.24</text>
</svg>
</body></html>
